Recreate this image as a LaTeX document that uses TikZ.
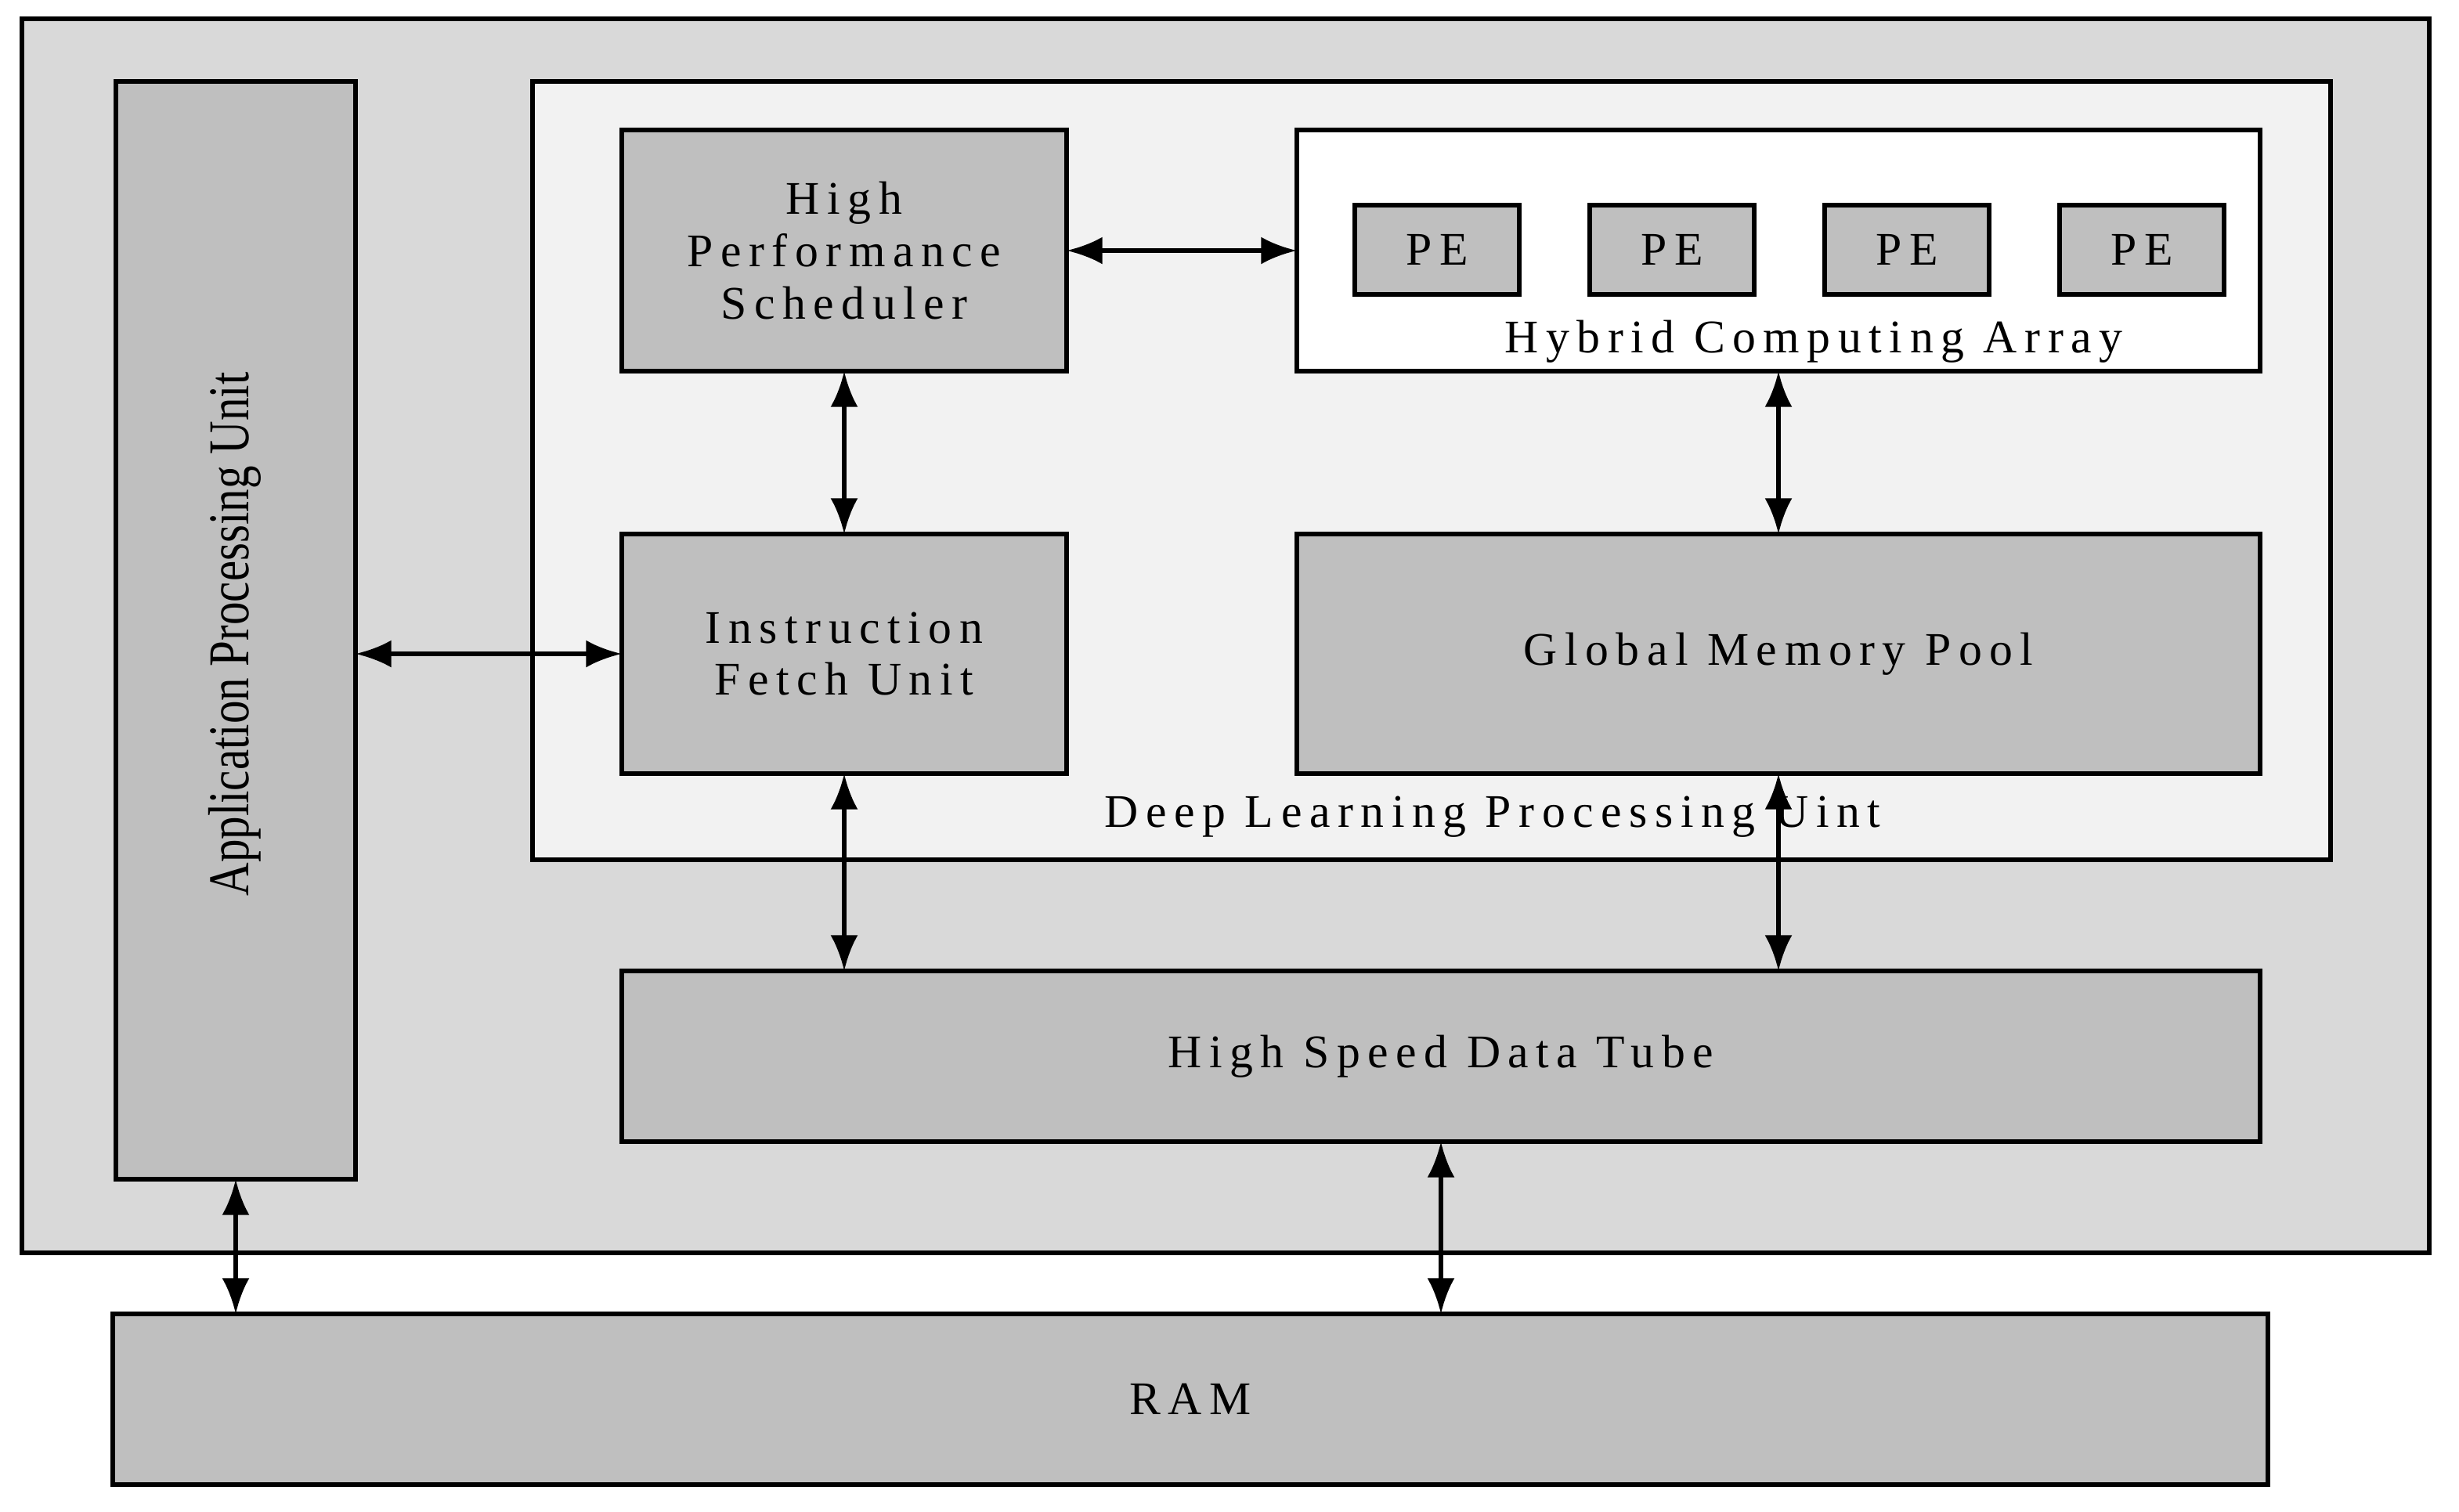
\documentclass[tikz,border=0pt]{standalone}
\usepackage{fontspec}
\setmainfont{Liberation Serif}
\usetikzlibrary{arrows.meta}
\colorlet{blk}{black!25}
\colorlet{shell}{black!15}
\colorlet{inner}{black!5}
\tikzset{
  box/.style={draw,line width=1.7pt,inner sep=0,outer sep=0,align=center,
    font=\fontsize{17}{19}\selectfont\addfontfeature{LetterSpace=16}},
  link/.style={{Latex[length=13pt,width=10pt]}-{Latex[length=13pt,width=10pt]},line width=1.7pt},
}
% #1 name, #2 x1, #3 y1, #4 x2, #5 y2, #6 style, #7 text
\newcommand{\blkbox}[7]{\node[box,#6,minimum width={(#4-#2)*0.02cm},minimum height={(#5-#3)*0.02cm}]
  (#1) at ({(#2+#4)/2},{(#3+#5)/2}) {#7};}
\begin{document}
\begin{tikzpicture}[x=0.02cm,y=-0.02cm]
\useasboundingbox (0,0) rectangle (1570,965);
\blkbox{outer}{14}{12}{1551}{800}{fill=shell}{}
\blkbox{apu}{74}{52}{227}{753}{fill=blk}{}
\node[rotate=90,font=\fontsize{21}{24}\selectfont,xscale=0.8] (apulabel) at (150,405) {Application Processing Unit};
\blkbox{dlpu}{340}{52}{1488}{549}{fill=inner}{}
\node[box,draw=none,anchor=base] (dlpulabel) at (953,528) {Deep Learning Processing Uint};
\blkbox{hps}{397}{83}{681}{237}{fill=blk}{High\\Performance\\Scheduler}
\blkbox{hca}{828}{83}{1443}{237}{fill=white}{}
\node[box,draw=none,anchor=base] (hcalabel) at (1158,225) {Hybrid Computing Array};
\blkbox{pe1}{865}{131}{970}{188}{fill=blk}{PE}
\blkbox{pe2}{1015}{131}{1120}{188}{fill=blk}{PE}
\blkbox{pe3}{1165}{131}{1270}{188}{fill=blk}{PE}
\blkbox{pe4}{1315}{131}{1420}{188}{fill=blk}{PE}
\blkbox{ifu}{397}{341}{681}{494}{fill=blk}{Instruction\\Fetch Unit}
\blkbox{gmp}{828}{341}{1443}{494}{fill=blk}{Global Memory Pool}
\blkbox{hsdt}{397}{620}{1443}{729}{fill=blk}{High Speed Data Tube}
\blkbox{ram}{72}{839}{1448}{948}{fill=blk}{RAM}
\draw[link] (hps.east) -- (hca.west |- hps.east);
\draw[link] (hps.south) -- (ifu.north);
\draw[link] (hca.south) -- (gmp.north);
\draw[link] (ifu.west -| apu.east) -- (ifu.west);
\draw[link] (ifu.south) -- (ifu.south |- hsdt.north);
\draw[link] (gmp.south) -- (gmp.south |- hsdt.north);
\draw[link] (apu.south) -- (apu.south |- ram.north);
\draw[link] (hsdt.south) -- (hsdt.south |- ram.north);
\end{tikzpicture}
\end{document}
